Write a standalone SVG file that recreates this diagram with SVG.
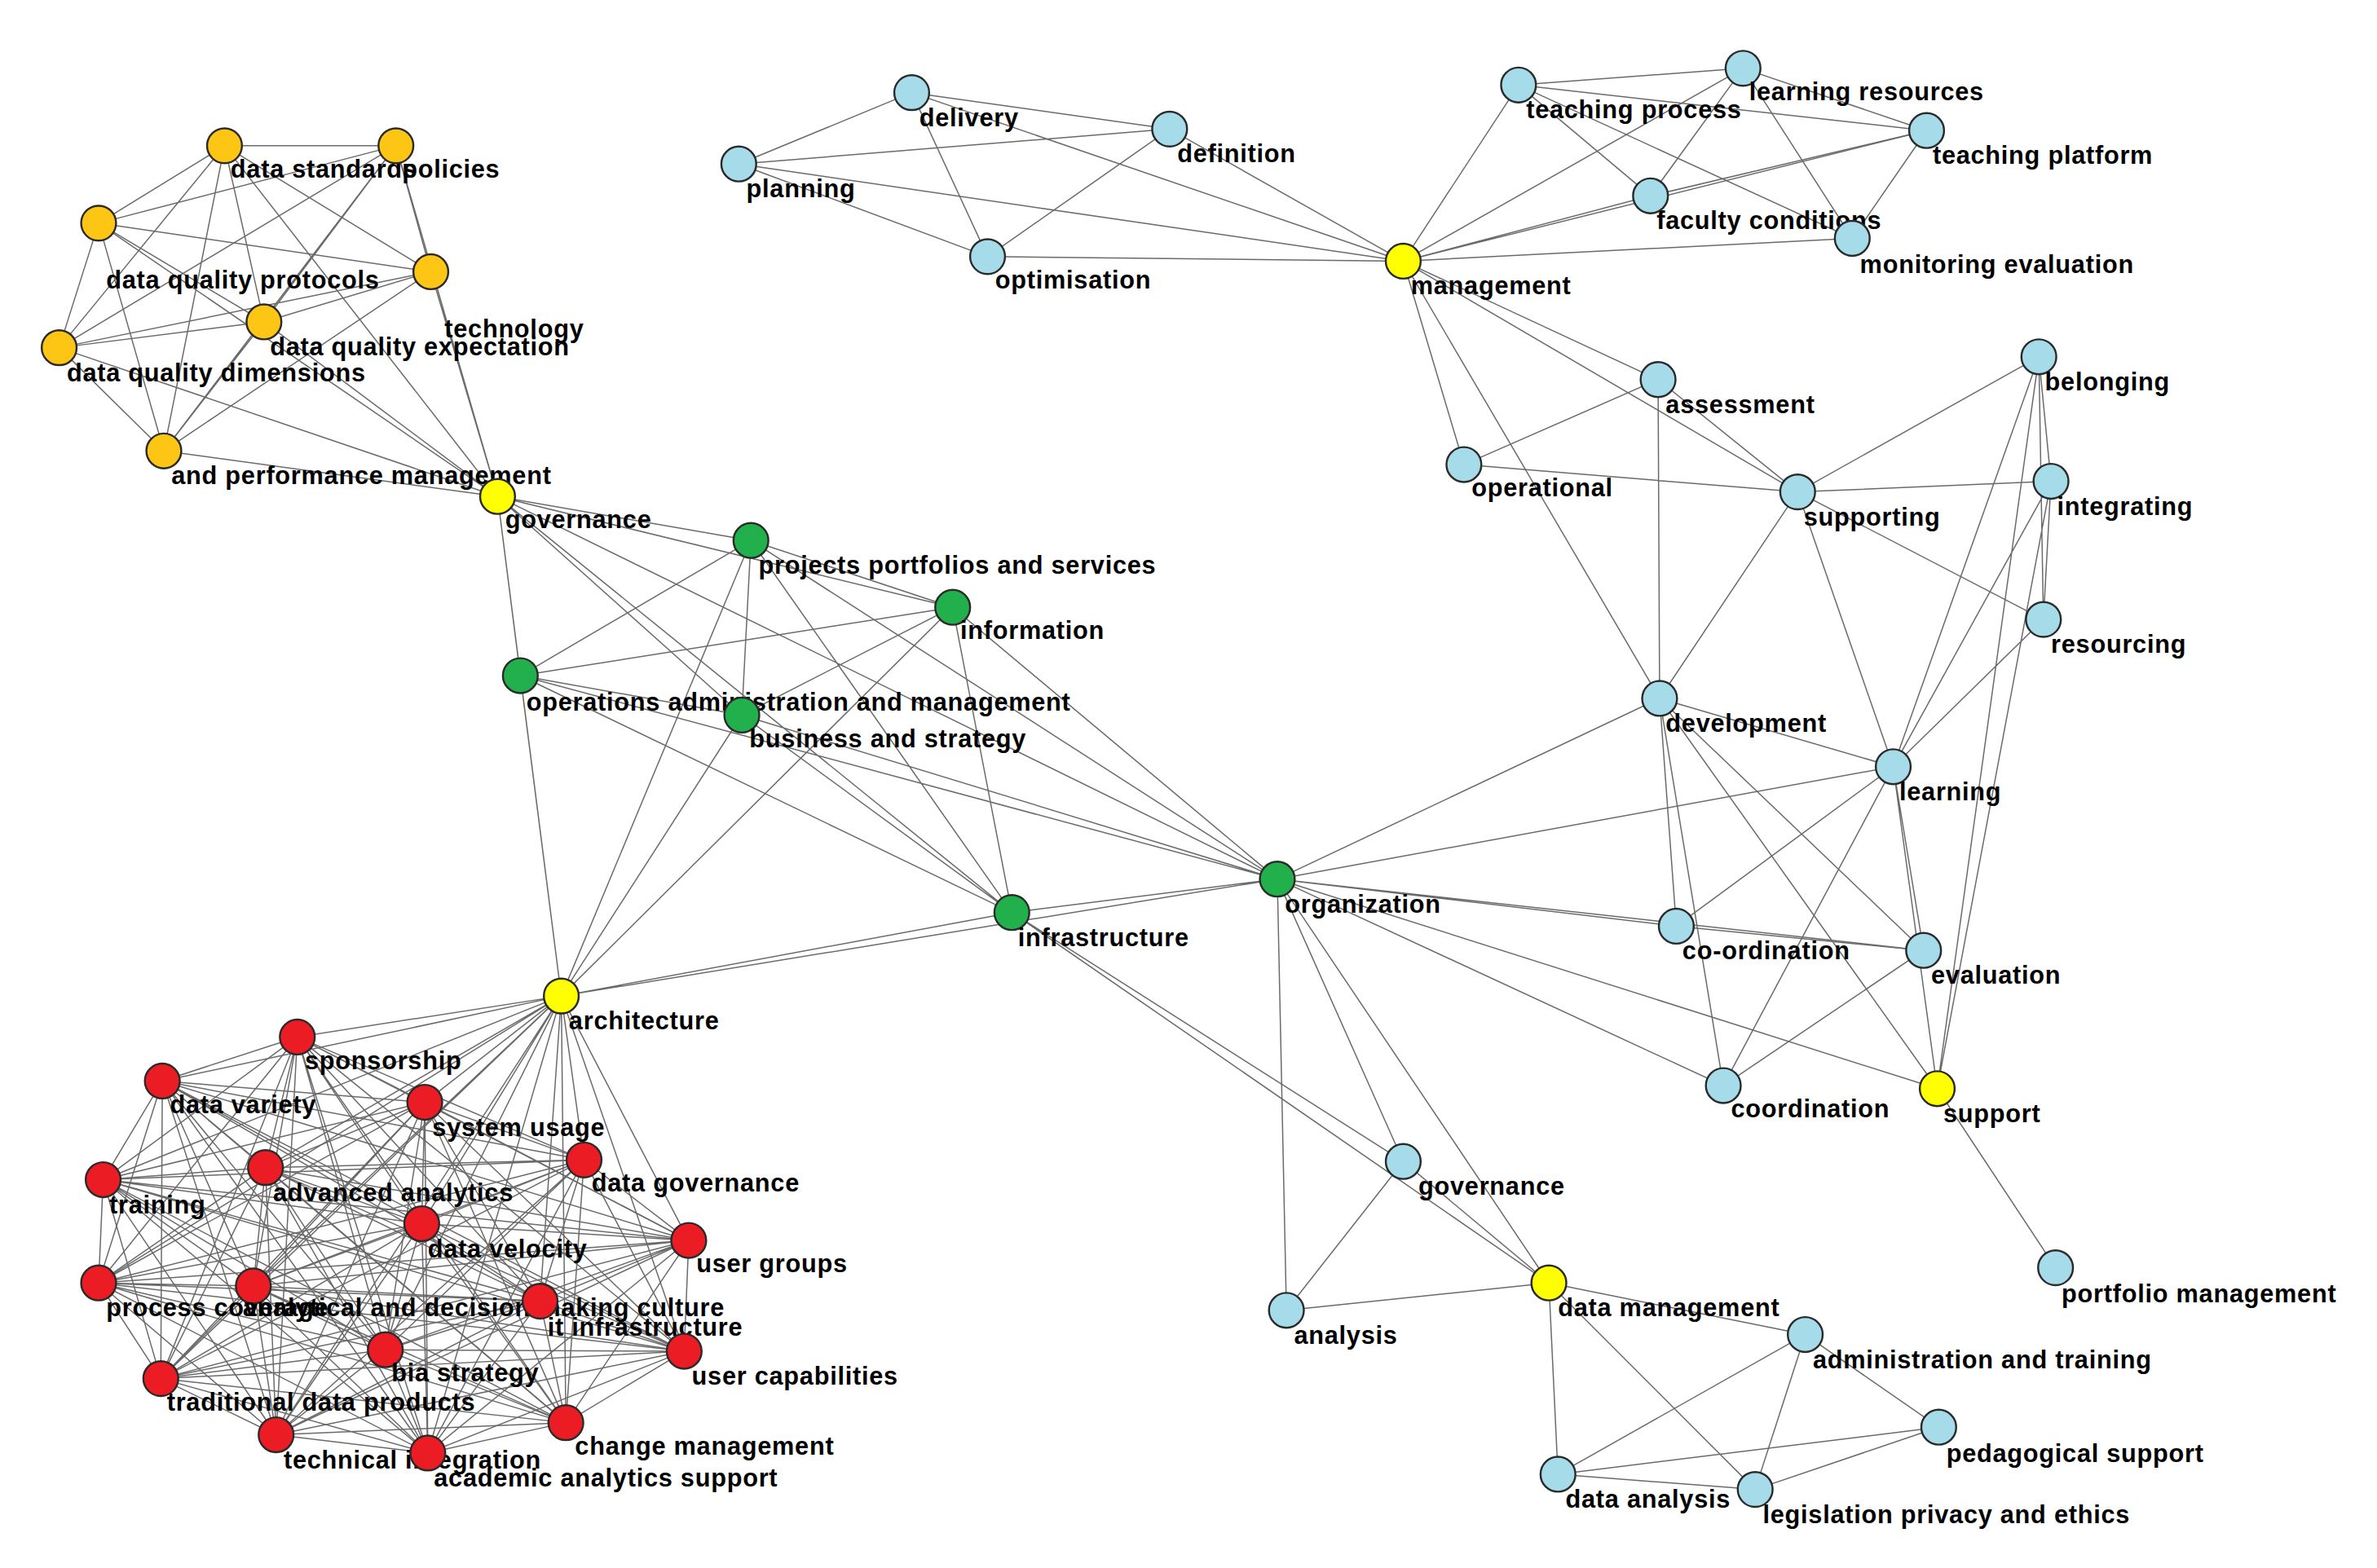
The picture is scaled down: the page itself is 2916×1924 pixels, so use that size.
<svg xmlns="http://www.w3.org/2000/svg" width="2916" height="1924" viewBox="0 0 2916 1924">
<style>
.e{fill:none;stroke:#6a6a6a;stroke-width:0.8}
.n circle{stroke:#2a2a2a;stroke-width:1.3}
.r circle{fill:#ec1c24}.o circle{fill:#fdc514}.y circle{fill:#ffff00}.g circle{fill:#22b04c}.b circle{fill:#a6dcea}
text{font-family:"Liberation Sans",Arial,sans-serif;font-weight:bold;font-size:16.5px;letter-spacing:0.4px;fill:#000}
</style>
<rect width="2916" height="1924" fill="#fff"/>
<g transform="scale(1.861,1.863)">
<g id="connectors" class="e">
<path d="M196 683L107 712M196 683L280 726M196 683L385 764M196 683L68 777M196 683L175 769M196 683L278 806M196 683L454 817M196 683L65 845M196 683L167 847M196 683L356 857M196 683L451 890M196 683L254 889M196 683L106 908M196 683L182 945M196 683L282 957M196 683L373 937"/>
<path d="M107 712L280 726M107 712L385 764M107 712L68 777M107 712L175 769M107 712L278 806M107 712L454 817M107 712L65 845M107 712L167 847M107 712L356 857M107 712L451 890M107 712L254 889M107 712L106 908M107 712L182 945M107 712L282 957M107 712L373 937"/>
<path d="M280 726L385 764M280 726L68 777M280 726L175 769M280 726L278 806M280 726L454 817M280 726L65 845M280 726L167 847M280 726L356 857M280 726L451 890M280 726L254 889M280 726L106 908M280 726L182 945M280 726L282 957M280 726L373 937"/>
<path d="M385 764L68 777M385 764L175 769M385 764L278 806M385 764L454 817M385 764L65 845M385 764L167 847M385 764L356 857M385 764L451 890M385 764L254 889M385 764L106 908M385 764L182 945M385 764L282 957M385 764L373 937"/>
<path d="M68 777L175 769M68 777L278 806M68 777L454 817M68 777L65 845M68 777L167 847M68 777L356 857M68 777L451 890M68 777L254 889M68 777L106 908M68 777L182 945M68 777L282 957M68 777L373 937"/>
<path d="M175 769L278 806M175 769L454 817M175 769L65 845M175 769L167 847M175 769L356 857M175 769L451 890M175 769L254 889M175 769L106 908M175 769L182 945M175 769L282 957M175 769L373 937"/>
<path d="M278 806L454 817M278 806L65 845M278 806L167 847M278 806L356 857M278 806L451 890M278 806L254 889M278 806L106 908M278 806L182 945M278 806L282 957M278 806L373 937"/>
<path d="M454 817L65 845M454 817L167 847M454 817L356 857M454 817L451 890M454 817L254 889M454 817L106 908M454 817L182 945M454 817L282 957M454 817L373 937"/>
<path d="M65 845L167 847M65 845L356 857M65 845L451 890M65 845L254 889M65 845L106 908M65 845L182 945M65 845L282 957M65 845L373 937"/>
<path d="M167 847L356 857M167 847L451 890M167 847L254 889M167 847L106 908M167 847L182 945M167 847L282 957M167 847L373 937"/>
<path d="M356 857L451 890M356 857L254 889M356 857L106 908M356 857L182 945M356 857L282 957M356 857L373 937"/>
<path d="M451 890L254 889M451 890L106 908M451 890L182 945M451 890L282 957M451 890L373 937"/>
<path d="M254 889L106 908M254 889L182 945M254 889L282 957M254 889L373 937M106 908L182 945M106 908L282 957M106 908L373 937M182 945L282 957M182 945L373 937M282 957L373 937"/>
<path d="M370 656L196 683M370 656L107 712M370 656L280 726M370 656L385 764M370 656L68 777M370 656L175 769M370 656L278 806M370 656L454 817M370 656L65 845M370 656L167 847M370 656L356 857M370 656L451 890M370 656L254 889M370 656L106 908M370 656L182 945M370 656L282 957M370 656L373 937"/>
<path d="M148 96L261 96M148 96L65 147M148 96L284 179M148 96L174 212M148 96L39 229M148 96L108 297M261 96L65 147M261 96L284 179M261 96L174 212M261 96L39 229M261 96L108 297M65 147L284 179M65 147L174 212M65 147L39 229M65 147L108 297M284 179L174 212M284 179L39 229M284 179L108 297M174 212L39 229M174 212L108 297M39 229L108 297"/>
<path d="M328 327L148 96M328 327L261 96M328 327L65 147M328 327L284 179M328 327L174 212M328 327L39 229M328 327L108 297"/>
<path d="M328 327L370 656M328 327L495 356M328 327L628 400M328 327L343 445M328 327L489 471M328 327L667 601M328 327L842 579M495 356L628 400M495 356L343 445M495 356L489 471M495 356L667 601M495 356L842 579M628 400L343 445M628 400L489 471M628 400L667 601M343 445L489 471M343 445L667 601M343 445L842 579M489 471L667 601M489 471L842 579M667 601L842 579M370 656L495 356M370 656L628 400M370 656L343 445M370 656L489 471M370 656L667 601M370 656L842 579"/>
<path d="M628 400L842 579M667 601L925 765M667 601L1021 845"/>
<path d="M842 579L1094 460M842 579L1248 505M842 579L1105 610M842 579L1268 626M842 579L1277 717M842 579L1136 715M842 579L925 765M842 579L848 863M842 579L1021 845"/>
<path d="M925 172L487 108M925 172L601 61M925 172L771 85M925 172L651 169M925 172L1001 56M925 172L1149 45M925 172L1270 86M925 172L1088 129M925 172L1221 157M925 172L1093 250M925 172L965 306M925 172L1185 324M925 172L1094 460"/>
<path d="M487 108L601 61M487 108L771 85M487 108L651 169M601 61L771 85M601 61L651 169M771 85L651 169"/>
<path d="M1001 56L1149 45M1001 56L1270 86M1001 56L1088 129M1001 56L1221 157M1149 45L1270 86M1149 45L1088 129M1149 45L1221 157M1270 86L1088 129M1270 86L1221 157"/>
<path d="M1093 250L965 306M1093 250L1185 324M1093 250L1094 460M965 306L1185 324M1185 324L1344 235M1185 324L1352 317M1185 324L1347 408M1185 324L1094 460M1185 324L1248 505M1344 235L1352 317M1344 235L1347 408M1344 235L1248 505M1344 235L1277 717M1352 317L1347 408M1352 317L1248 505M1352 317L1277 717M1347 408L1248 505"/>
<path d="M1094 460L1248 505M1094 460L1105 610M1094 460L1136 715M1094 460L1268 626M1094 460L1277 717M1248 505L1105 610M1248 505L1136 715M1248 505L1268 626M1248 505L1277 717M1105 610L1268 626M1268 626L1136 715M1277 717L1355 835"/>
<path d="M925 765L848 863M925 765L1021 845M848 863L1021 845M1021 845L1190 879M1021 845L1027 971M1021 845L1157 981M1190 879L1027 971M1190 879L1157 981M1190 879L1278 940M1278 940L1027 971M1278 940L1157 981M1027 971L1157 981"/>
</g>
<g class="n r">
<g id="sponsorship"><circle cx="196" cy="683" r="11.5"/><text x="201" y="704">sponsorship</text></g>
<g id="data-variety"><circle cx="107" cy="712" r="11.5"/><text x="112" y="733">data variety</text></g>
<g id="system-usage"><circle cx="280" cy="726" r="11.5"/><text x="285" y="748">system usage</text></g>
<g id="data-governance"><circle cx="385" cy="764" r="11.5"/><text x="390" y="785">data governance</text></g>
<g id="training"><circle cx="68" cy="777" r="11.5"/><text x="72" y="799">training</text></g>
<g id="advanced-analytics"><circle cx="175" cy="769" r="11.5"/><text x="180" y="791">advanced analytics</text></g>
<g id="data-velocity"><circle cx="278" cy="806" r="11.5"/><text x="282" y="828">data velocity</text></g>
<g id="user-groups"><circle cx="454" cy="817" r="11.5"/><text x="459" y="838">user groups</text></g>
<g id="process-coverage"><circle cx="65" cy="845" r="11.5"/><text x="70" y="867">process coverage</text></g>
<g id="analytical"><circle cx="167" cy="847" r="11.5"/><text x="160" y="867">analytical and decision making culture</text></g>
<g id="it-infrastructure"><circle cx="356" cy="857" r="11.5"/><text x="361" y="880">it infrastructure</text></g>
<g id="user-capabilities"><circle cx="451" cy="890" r="11.5"/><text x="456" y="912">user capabilities</text></g>
<g id="bia-strategy"><circle cx="254" cy="889" r="11.5"/><text x="258" y="910">bia strategy</text></g>
<g id="traditional-data-products"><circle cx="106" cy="908" r="11.5"/><text x="110" y="929">traditional data products</text></g>
<g id="technical-integration"><circle cx="182" cy="945" r="11.5"/><text x="187" y="967">technical integration</text></g>
<g id="academic-analytics-support"><circle cx="282" cy="957" r="11.5"/><text x="286" y="979">academic analytics support</text></g>
<g id="change-management"><circle cx="373" cy="937" r="11.5"/><text x="379" y="958">change management</text></g>
</g>
<g class="n o">
<g id="data-standards"><circle cx="148" cy="96" r="11.5"/><text x="152" y="117">data standards</text></g>
<g id="policies"><circle cx="261" cy="96" r="11.5"/><text x="265" y="117">policies</text></g>
<g id="data-quality-protocols"><circle cx="65" cy="147" r="11.5"/><text x="70" y="190">data quality protocols</text></g>
<g id="technology"><circle cx="284" cy="179" r="11.5"/><text x="293" y="222">technology</text></g>
<g id="data-quality-expectation"><circle cx="174" cy="212" r="11.5"/><text x="178" y="234">data quality expectation</text></g>
<g id="data-quality-dimensions"><circle cx="39" cy="229" r="11.5"/><text x="44" y="251">data quality dimensions</text></g>
<g id="and-performance-management"><circle cx="108" cy="297" r="11.5"/><text x="113" y="319">and performance management</text></g>
</g>
<g class="n y">
<g id="governance"><circle cx="328" cy="327" r="11.5"/><text x="333" y="348">governance</text></g>
<g id="architecture"><circle cx="370" cy="656" r="11.5"/><text x="375" y="678">architecture</text></g>
<g id="management"><circle cx="925" cy="172" r="11.5"/><text x="930" y="194">management</text></g>
<g id="support"><circle cx="1277" cy="717" r="11.5"/><text x="1281" y="739">support</text></g>
<g id="data-management"><circle cx="1021" cy="845" r="11.5"/><text x="1027" y="867">data management</text></g>
</g>
<g class="n g">
<g id="projects"><circle cx="495" cy="356" r="11.5"/><text x="500" y="378">projects portfolios and services</text></g>
<g id="information"><circle cx="628" cy="400" r="11.5"/><text x="633" y="421">information</text></g>
<g id="operations"><circle cx="343" cy="445" r="11.5"/><text x="347" y="468">operations administration and management</text></g>
<g id="business-and-strategy"><circle cx="489" cy="471" r="11.5"/><text x="494" y="492">business and strategy</text></g>
<g id="infrastructure"><circle cx="667" cy="601" r="11.5"/><text x="671" y="623">infrastructure</text></g>
<g id="organization"><circle cx="842" cy="579" r="11.5"/><text x="847" y="601">organization</text></g>
</g>
<g class="n b">
<g id="delivery"><circle cx="601" cy="61" r="11.5"/><text x="606" y="83">delivery</text></g>
<g id="definition"><circle cx="771" cy="85" r="11.5"/><text x="776" y="107">definition</text></g>
<g id="planning"><circle cx="487" cy="108" r="11.5"/><text x="492" y="130">planning</text></g>
<g id="optimisation"><circle cx="651" cy="169" r="11.5"/><text x="656" y="190">optimisation</text></g>
<g id="teaching-process"><circle cx="1001" cy="56" r="11.5"/><text x="1006" y="78">teaching process</text></g>
<g id="learning-resources"><circle cx="1149" cy="45" r="11.5"/><text x="1153" y="66">learning resources</text></g>
<g id="teaching-platform"><circle cx="1270" cy="86" r="11.5"/><text x="1274" y="108">teaching platform</text></g>
<g id="faculty-conditions"><circle cx="1088" cy="129" r="11.5"/><text x="1092" y="151">faculty conditions</text></g>
<g id="monitoring-evaluation"><circle cx="1221" cy="157" r="11.5"/><text x="1226" y="180">monitoring evaluation</text></g>
<g id="assessment"><circle cx="1093" cy="250" r="11.5"/><text x="1098" y="272">assessment</text></g>
<g id="operational"><circle cx="965" cy="306" r="11.5"/><text x="970" y="327">operational</text></g>
<g id="supporting"><circle cx="1185" cy="324" r="11.5"/><text x="1189" y="346">supporting</text></g>
<g id="belonging"><circle cx="1344" cy="235" r="11.5"/><text x="1348" y="257">belonging</text></g>
<g id="integrating"><circle cx="1352" cy="317" r="11.5"/><text x="1356" y="339">integrating</text></g>
<g id="resourcing"><circle cx="1347" cy="408" r="11.5"/><text x="1352" y="430">resourcing</text></g>
<g id="development"><circle cx="1094" cy="460" r="11.5"/><text x="1098" y="482">development</text></g>
<g id="learning"><circle cx="1248" cy="505" r="11.5"/><text x="1252" y="527">learning</text></g>
<g id="co-ordination"><circle cx="1105" cy="610" r="11.5"/><text x="1109" y="632">co-ordination</text></g>
<g id="evaluation"><circle cx="1268" cy="626" r="11.5"/><text x="1273" y="648">evaluation</text></g>
<g id="coordination"><circle cx="1136" cy="715" r="11.5"/><text x="1141" y="736">coordination</text></g>
<g id="governance-2"><circle cx="925" cy="765" r="11.5"/><text x="935" y="787">governance</text></g>
<g id="analysis"><circle cx="848" cy="863" r="11.5"/><text x="853" y="885">analysis</text></g>
<g id="portfolio-management"><circle cx="1355" cy="835" r="11.5"/><text x="1359" y="858">portfolio management</text></g>
<g id="administration-and-training"><circle cx="1190" cy="879" r="11.5"/><text x="1195" y="901">administration and training</text></g>
<g id="pedagogical-support"><circle cx="1278" cy="940" r="11.5"/><text x="1283" y="963">pedagogical support</text></g>
<g id="data-analysis"><circle cx="1027" cy="971" r="11.5"/><text x="1032" y="993">data analysis</text></g>
<g id="legislation"><circle cx="1157" cy="981" r="11.5"/><text x="1162" y="1003">legislation privacy and ethics</text></g>
</g>
</g>
</svg>
